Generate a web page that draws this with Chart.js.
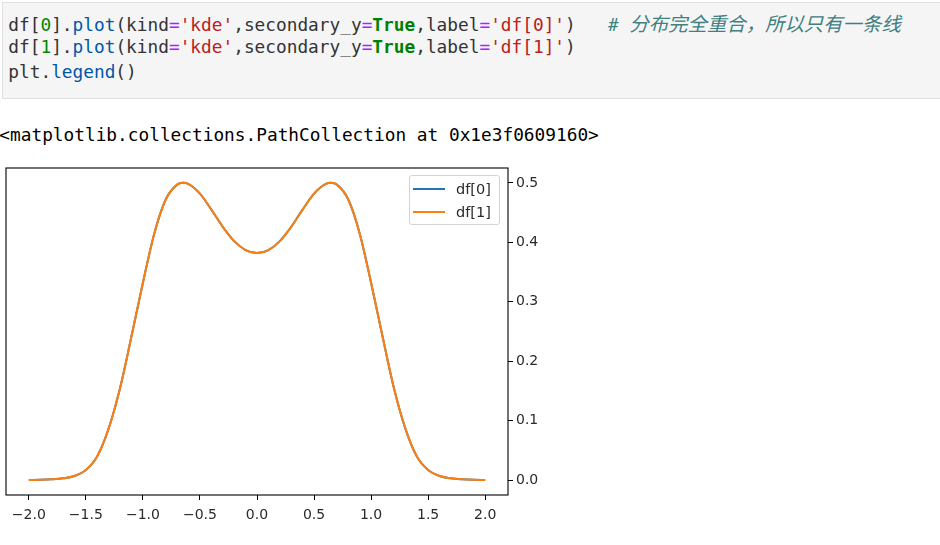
<!DOCTYPE html>
<html>
<head>
<meta charset="utf-8">
<script src="https://cdn.jsdelivr.net/npm/chart.js@4.4.0/dist/chart.umd.min.js"></script>
<style>
  html, body { margin: 0; padding: 0; background: #fff; width: 940px; height: 545px; overflow: hidden; position: relative; }
  .cell { position: absolute; left: 2px; top: 2px; width: 960px; height: 97px; background: #f5f5f5; border: 1px solid #e0e0e0; box-sizing: border-box; }
  .code { position: absolute; left: 8.3px; font-family: "DejaVu Sans Mono", monospace; font-size: 17.8px; line-height: 24px; height: 24px; color: #333; white-space: pre; }
  .num { color: #008800; }
  .prop { color: #0055aa; }
  .op { color: #aa22ff; }
  .str { color: #ba2121; }
  .kw { color: #008000; font-weight: bold; }
  .cm { color: #408080; font-style: italic; }
  .cjk { font-family: "Noto Sans CJK SC", sans-serif; font-size: 19.4px; }
  .out { position: absolute; left: -0.7px; top: 123px; font-family: "DejaVu Sans Mono", monospace; font-size: 17.8px; line-height: 24px; color: #000; white-space: pre; }
  #chart { position: absolute; left: 0; top: 0; }
  .legend { position: absolute; left: 409px; top: 175px; width: 91px; height: 50px; box-sizing: border-box; border: 1px solid #d4d4d4; border-radius: 3px; background: rgba(255,255,255,0.8); }
  .lg-row { position: absolute; left: 0; height: 20px; width: 100%; }
  .lg-line { position: absolute; left: 3px; width: 32px; height: 2px; top: 9px; }
  .lg-text { position: absolute; left: 46px; top: 0; font-family: "DejaVu Sans", sans-serif; font-size: 14.5px; line-height: 20px; color: #2a2a2a; }
</style>
</head>
<body>
<div class="cell"></div>
<div class="code" style="top:11px">df[<span class="num">0</span>].<span class="prop">plot</span>(kind<span class="op">=</span><span class="str">'kde'</span>,secondary_y<span class="op">=</span><span class="kw">True</span>,label<span class="op">=</span><span class="str">'df[0]'</span>)   <span class="cm"># <span class="cjk">分布完全重合，所以只有一条线</span></span></div>
<div class="code" style="top:35px">df[<span class="num">1</span>].<span class="prop">plot</span>(kind<span class="op">=</span><span class="str">'kde'</span>,secondary_y<span class="op">=</span><span class="kw">True</span>,label<span class="op">=</span><span class="str">'df[1]'</span>)</div>
<div class="code" style="top:60px">plt.<span class="prop">legend</span>()</div>
<div class="out">&lt;matplotlib.collections.PathCollection at 0x1e3f0609160&gt;</div>
<canvas id="chart" width="940" height="545"></canvas>
<div class="legend" id="legend"></div>
<script>
// ---- data ----
const xValues = [-2.0,-1.9,-1.8,-1.7,-1.6,-1.5,-1.4,-1.3,-1.2,-1.1,-1.0,-0.9,-0.8,-0.7,-0.65,-0.6,-0.5,-0.4,-0.3,-0.2,-0.1,0.0,0.1,0.2,0.3,0.4,0.5,0.6,0.65,0.7,0.8,0.9,1.0,1.1,1.2,1.3,1.4,1.5,1.6,1.7,1.8,1.9,2.0];
const df0Density = [0.0002,0.0005,0.0013,0.003,0.007,0.017,0.040,0.087,0.155,0.242,0.332,0.415,0.472,0.497,0.500,0.498,0.482,0.455,0.426,0.402,0.387,0.382,0.387,0.402,0.426,0.455,0.482,0.498,0.500,0.497,0.472,0.415,0.332,0.242,0.155,0.087,0.040,0.017,0.007,0.003,0.0013,0.0005,0.0002];
const df1Density = [0.0002,0.0005,0.0013,0.003,0.007,0.017,0.040,0.087,0.155,0.242,0.332,0.415,0.472,0.497,0.500,0.498,0.482,0.455,0.426,0.402,0.387,0.382,0.387,0.402,0.426,0.455,0.482,0.498,0.500,0.497,0.472,0.415,0.332,0.242,0.155,0.087,0.040,0.017,0.007,0.003,0.0013,0.0005,0.0002];
const seriesLabels = ['df[0]', 'df[1]'];
const seriesColors = ['#1f77b4', '#ff7f0e'];
const xTicks = [-2.0,-1.5,-1.0,-0.5,0.0,0.5,1.0,1.5,2.0];
const yTicks = [0.0,0.1,0.2,0.3,0.4,0.5];

const series = [df0Density, df1Density];
const datasets = series.map((vals, i) => ({
  label: seriesLabels[i],
  data: xValues.map((x, j) => ({ x: x, y: vals[j] })),
  borderColor: seriesColors[i],
  backgroundColor: seriesColors[i],
  borderWidth: 2,
  pointRadius: 0,
  fill: false,
  cubicInterpolationMode: 'monotone',
  order: series.length - i
}));

const fmt = v => (v < 0 ? '\u2212' : '') + Math.abs(v).toFixed(1);

const framePlugin = {
  id: 'frame',
  afterDatasetsDraw(chart) {
    const a = chart.chartArea, ctx = chart.ctx;
    ctx.save();
    ctx.strokeStyle = '#000';
    ctx.lineWidth = 1.1;
    ctx.strokeRect(a.left, a.top, a.right - a.left, a.bottom - a.top);
    ctx.restore();
  }
};

const tickFont = { family: 'DejaVu Sans', size: 14 };
new Chart(document.getElementById('chart'), {
  type: 'line',
  data: { datasets: datasets },
  options: {
    responsive: false,
    animation: false,
    devicePixelRatio: 1,
    layout: { padding: { left: 6, top: 168, right: 387, bottom: 20 } },
    plugins: { legend: { display: false }, tooltip: { enabled: false } },
    scales: {
      x: {
        type: 'linear', position: 'bottom', min: -2.2, max: 2.2,
        afterBuildTicks: s => { s.ticks = xTicks.map(v => ({ value: v })); },
        afterFit: s => { s.height = 30; },
        grid: { display: true, drawOnChartArea: false, drawTicks: true, tickLength: 5, color: '#000', tickWidth: 1 },
        border: { display: false },
        ticks: { font: tickFont, color: '#2a2a2a', padding: 7, maxRotation: 0, callback: v => fmt(v) }
      },
      y: {
        type: 'linear', position: 'right', min: -0.025, max: 0.525,
        afterBuildTicks: s => { s.ticks = yTicks.map(v => ({ value: v })); },
        afterFit: s => { s.width = 45; },
        grid: { display: true, drawOnChartArea: false, drawTicks: true, tickLength: 5, color: '#000', tickWidth: 1 },
        border: { display: false },
        ticks: { font: tickFont, color: '#2a2a2a', padding: 3, callback: v => v.toFixed(1) }
      }
    }
  },
  plugins: [framePlugin]
});

// legend (matplotlib style, built from the series)
const lg = document.getElementById('legend');
seriesLabels.forEach((name, i) => {
  const row = document.createElement('div');
  row.className = 'lg-row';
  row.style.top = (3 + i * 23) + 'px';
  const ln = document.createElement('div');
  ln.className = 'lg-line';
  ln.style.background = seriesColors[i];
  const tx = document.createElement('div');
  tx.className = 'lg-text';
  tx.textContent = name;
  row.appendChild(ln); row.appendChild(tx);
  lg.appendChild(row);
});
</script>
</body>
</html>
